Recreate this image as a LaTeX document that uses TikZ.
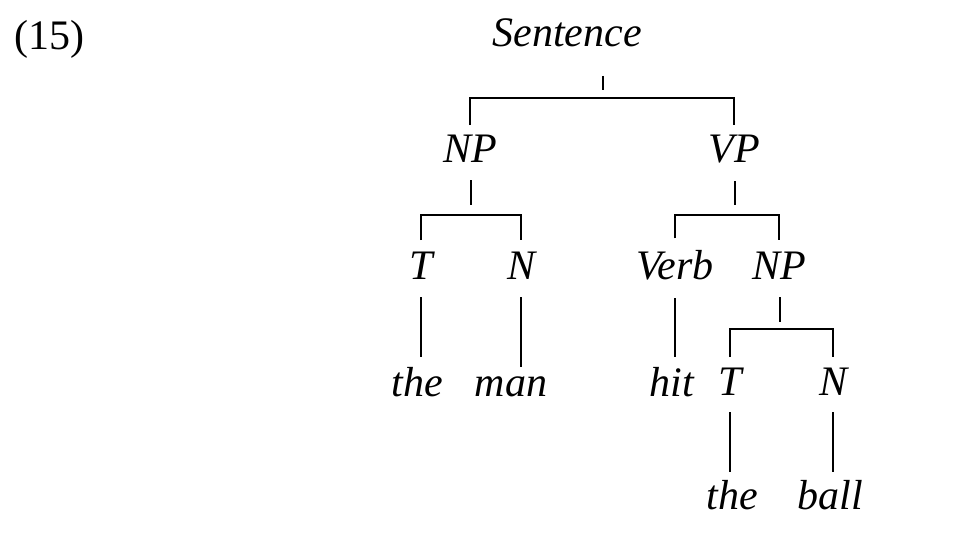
\documentclass[tikz,border=0pt]{standalone}
\usepackage{fontspec}
\setmainfont{Liberation Serif}
\tikzset{lbl/.style={font=\fontsize{21}{25}\selectfont\itshape, anchor=base, inner sep=0pt},
  br/.style={line width=1.1pt}}

\begin{document}
\begin{tikzpicture}[x=0.5pt, y=-0.5pt]
  \useasboundingbox (0,0) rectangle (974,533);

  \node[lbl, font=\fontsize{21}{25}\selectfont\upshape] (num) at (49,50) {(15)};

  \node[lbl] (s) at (567,47) {Sentence};
  \node[lbl] (np1) at (470,163) {NP};
  \node[lbl] (vp) at (734,163) {VP};
  \node[lbl] (t1) at (421,280) {T};
  \node[lbl] (n1) at (521,280) {N};
  \node[lbl] (verb) at (675,280) {Verb};
  \node[lbl] (np2) at (779,280) {NP};
  \node[lbl] (the1) at (417,397) {the};
  \node[lbl] (man) at (511,397) {man};
  \node[lbl] (hit) at (672,397) {hit};
  \node[lbl] (t2) at (730,396) {T};
  \node[lbl] (n2) at (833,396) {N};
  \node[lbl] (the2) at (732,510) {the};
  \node[lbl] (ball) at (830,510) {ball};

  \coordinate (sbar) at (603,98);
  \coordinate (npbar) at (471,215);
  \coordinate (vpbar) at (735,215);
  \coordinate (npbarb) at (780,329);

  \draw[br, shorten <=14pt, shorten >=4pt] (sbar |- s.south) -- (sbar);
  \draw[br, shorten <=5pt, shorten >=5pt] (np1.north) |- (sbar) -| (vp.north);

  \draw[br, shorten <=8.5pt, shorten >=5pt] (npbar |- np1.south) -- (npbar);
  \draw[br, shorten <=6pt, shorten >=6pt] (t1.north) |- (npbar) -| (n1.north);
  \draw[br, shorten <=8.5pt, shorten >=5pt] (vpbar |- vp.south) -- (vpbar);
  \draw[br, shorten <=6pt, shorten >=6pt] (verb.north) |- (vpbar) -| (np2.north);

  \draw[br, shorten <=8.5pt, shorten >=5pt] (t1.south) -- (t1.south |- the1.north);
  \draw[br, shorten <=8.5pt, shorten >=5pt] (n1.south) -- (n1.south |- man.north);
  \draw[br, shorten <=8.5pt, shorten >=5pt] (verb.south) -- (verb.south |- hit.north);

  \draw[br, shorten <=8.5pt, shorten >=3.5pt] (npbarb |- np2.south) -- (npbarb);
  \draw[br, shorten <=5.5pt, shorten >=5.5pt] (t2.north) |- (npbarb) -| (n2.north);

  \draw[br, shorten <=8pt, shorten >=4pt] (t2.south) -- (t2.south |- the2.north);
  \draw[br, shorten <=8pt, shorten >=4pt] (n2.south) -- (n2.south |- ball.north);
\end{tikzpicture}
\end{document}
